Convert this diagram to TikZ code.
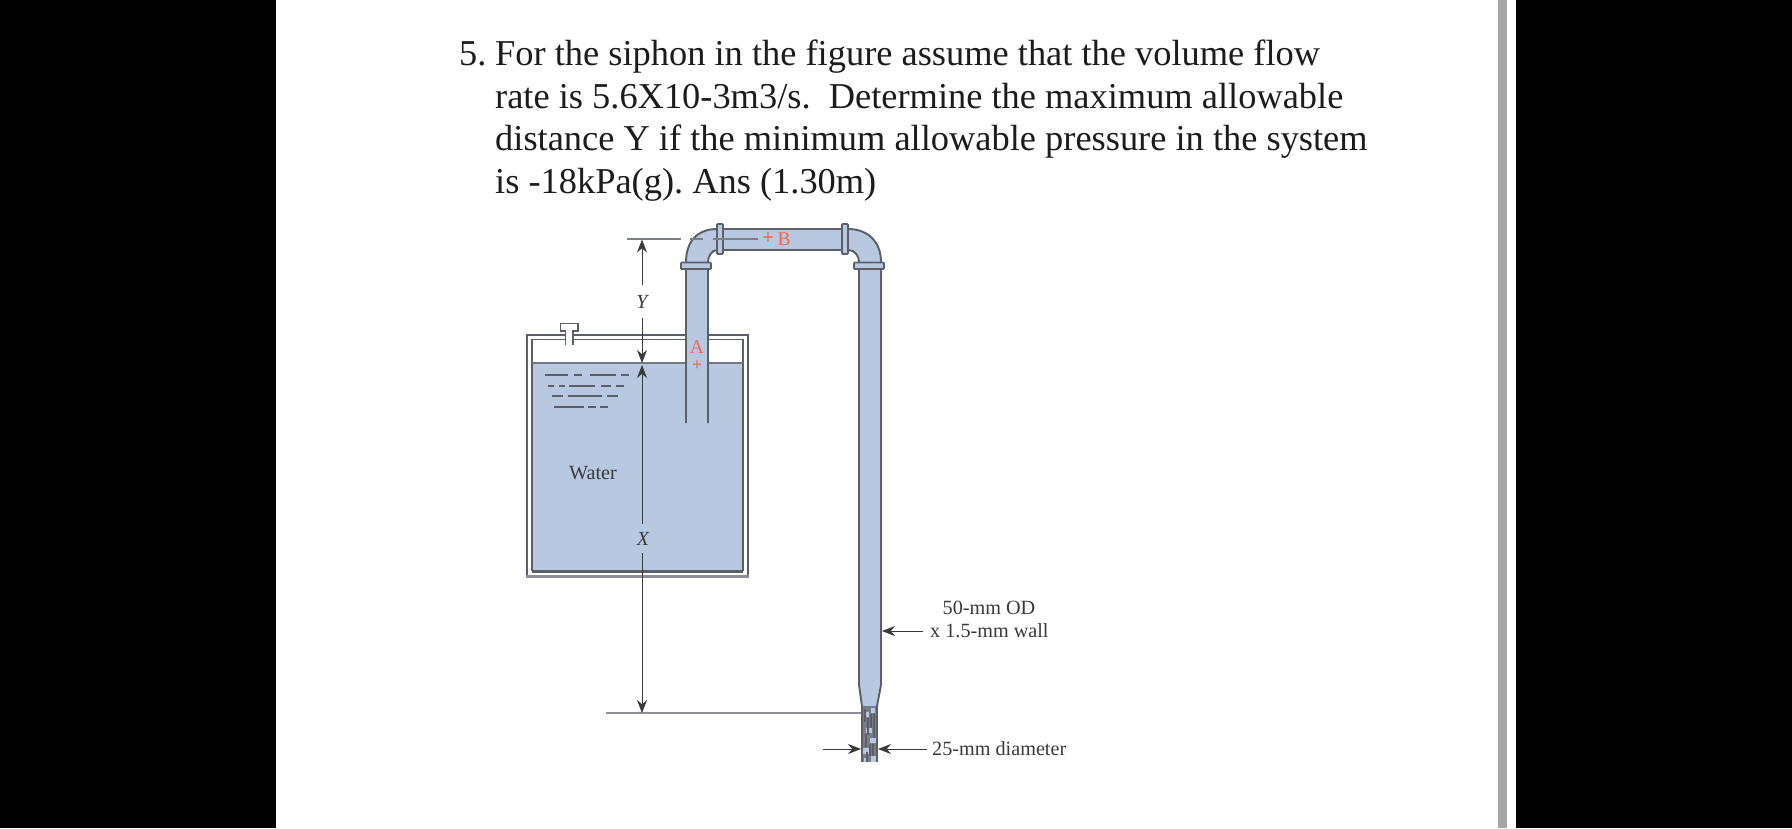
\documentclass[tikz,border=0pt]{standalone}
\usepackage{fontspec}
\setmainfont{Liberation Serif}
\usetikzlibrary{arrows.meta}
\definecolor{water}{HTML}{B7C8E0}
\definecolor{wall}{HTML}{5A5F68}
\definecolor{redlab}{HTML}{EE6A55}
\definecolor{inktext}{HTML}{1C1C1C}
\definecolor{lab}{HTML}{3A3A3A}
\definecolor{stripgrey}{HTML}{A6A6A6}
\frenchspacing
\tikzset{
  pline/.style={draw=wall,line width=1.9pt},
  flange/.style={draw=wall,fill=water,line width=1.6pt,rounded corners=0.8pt},
  dimline/.style={draw=lab,line width=0.9pt},
  dimtip/.style={-{Stealth[length=13pt,width=10pt]}},
  q/.style={font=\fontsize{36.4}{36.4}\selectfont,text=inktext,anchor=base west,inner sep=0pt},
  lbl/.style={font=\fontsize{20.2}{20.2}\selectfont,text=lab,inner sep=0pt},
  ital/.style={font=\fontsize{20}{20}\selectfont\itshape,text=lab,inner sep=0pt},
  red/.style={font=\fontsize{19.5}{19.5}\selectfont,text=redlab,inner sep=0pt},
  redplus/.style={font=\fontsize{21}{21}\selectfont\bfseries,text=redlab,inner sep=0pt},
  ripple/.style={draw=wall,line width=2pt}
}
\begin{document}
\begin{tikzpicture}[x=1pt,y=-1pt]
\useasboundingbox (0,0) rectangle (1792,828);
\fill[white] (0,0) rectangle (1792,828);
\fill[black] (0,0) rectangle (276,828);
\fill[black] (1516,0) rectangle (1792,828);
\fill[stripgrey] (1498,0) rectangle (1507,828);
% question text
\node[q] (n5) at (459,65) {5.};
\node[q] (l1) at (495,65) {For the siphon in the figure assume that the volume flow};
\node[q] (l2) at (495,108) {rate is 5.6X10-3m3/s.\ \ Determine the maximum allowable};
\node[q] (l3) at (495,150) {distance Y if the minimum allowable pressure in the system};
\node[q] (l4) at (495,193) {is -18kPa(g). Ans (1.30m)};
% tank
\fill[water] (532,363) rectangle (743,571);
\draw[wall,line width=1.8pt] (527,577) -- (527,335) -- (748,335) -- (748,577);
\draw[wall,line width=1.6pt] (532,571) -- (532,339.5) -- (743,339.5) -- (743,571);
\draw[wall!85,line width=1.2pt] (532,363) -- (743,363);
\draw[wall,line width=2.8pt] (532,571.5) -- (743,571.5);
\draw[wall!70,line width=2.8pt] (526.1,576.5) -- (748.9,576.5);
% filler cap
\fill[white] (565.5,331) rectangle (573,345);
\draw[wall,line width=1.5pt] (565.5,345) -- (565.5,331) -- (560.5,331) -- (560.5,323.5) -- (578,323.5) -- (578,331) -- (573,331) -- (573,345);
% pipe
\fill[water] (686,423) -- (686,262) .. controls (686,242) and (697,229) .. (717,229)
  -- (848,229) .. controls (868,229) and (881,242) .. (881,262)
  -- (881,685) -- (877,706) -- (862,706) -- (859,685)
  -- (859,262) .. controls (859,256) and (855,250) .. (848,250)
  -- (717,250) .. controls (712,250) and (708,256) .. (708,262) -- (708,423) -- cycle;
\draw[pline] (686,423) -- (686,262) .. controls (686,242) and (697,229) .. (717,229)
  -- (848,229) .. controls (868,229) and (881,242) .. (881,262) -- (881,685) -- (877,706);
\draw[pline] (708,423) -- (708,262) .. controls (708,256) and (712,250) .. (717,250)
  -- (848,250) .. controls (855,250) and (859,256) .. (859,262) -- (859,685) -- (862,706);
\draw[wall!70,line width=0.8pt] (862,706) -- (877,706);
% flanges
\draw[flange] (681,262.5) rectangle (711,269);
\draw[flange] (854,262.5) rectangle (884,269);
\draw[flange] (717,224) rectangle (723,254);
\draw[flange] (842,224) rectangle (848,254);
% jet
\fill[wall!70!water] (862,706) rectangle (877,762);
\foreach \xa/\ya/\xb/\yb in {864/712/869/717,871/708/875/713,866/728/872/733,870/738/876/743,863/748/869/754,871/756/876/762,864/758/868/762}
  \fill[water] (\xa,\ya) rectangle (\xb,\yb);
\foreach \xa/\ya/\yb in {865/709/722,868/718/735,871/714/728,874/714/738,866/734/747,870/744/756,873/744/756,867/752/762}
  \draw[wall,line width=1.1pt] (\xa,\ya) -- (\xa,\yb);
\draw[wall,line width=1.5pt] (862,706) -- (862,762);
\draw[wall,line width=1.5pt] (877,706) -- (877,762);
% water ripples
\foreach \xa/\xb/\yy in {545/568/375,574/582/375,590/616/375,621/629/375,
  548/554/386,559/565/386,569/595/386,601/611/386,616/624/386,
  552/563/396,568/602/396,607/618/396,
  554/584/407,588/596/407,600/608/407}
  \draw[ripple] (\xa,\yy) -- (\xb,\yy);
% dimension extension lines
\coordinate (yt0) at (627,239);
\coordinate (yt1) at (681,239);
\coordinate (yt2) at (690,239);
\coordinate (yt3) at (703,239);
\coordinate (yt4) at (713,239);
\coordinate (yt5) at (758,239);
\draw[wall!80,line width=1.5pt] (yt0) -- (yt1);
\draw[wall!80,line width=1.5pt] (yt2) -- (yt3);
\draw[wall!80,line width=1.5pt] (yt4) -- (yt5);
\coordinate (fl0) at (606,713);
\coordinate (fl1) at (861,713);
\draw[wall!70,line width=1.8pt] (fl0) -- (fl1);
% Y dimension
\node[ital] (ylab) at (642,302) {Y};
\coordinate (ytop) at (642,239.5);
\coordinate (ybot) at (642,363);
\coordinate (yup) at (642,285);
\coordinate (ydn) at (642,318);
\draw[dimline,dimtip] (yup) -- (ytop);
\draw[dimline,dimtip] (ydn) -- (ybot);
% X dimension
\node[ital] (xlab) at (643,539) {X};
\coordinate (xtop) at (642,365);
\coordinate (xbot) at (642,713);
\coordinate (xup) at (642,524);
\coordinate (xdn) at (642,553);
\draw[dimline,dimtip] (xup) -- (xtop);
\draw[dimline,dimtip] (xdn) -- (xbot);
% labels
\node[lbl] (wat) at (593,473) {Water};
\node[red] (alab) at (697,347.5) {A};
\node[redplus,font=\fontsize{17.5}{17.5}\selectfont\bfseries] (aplus) at (697,365.5) {+};
\node[redplus] (bplus) at (768,239) {+};
\node[red] (blab) at (784,239) {B};
% callouts
\node[lbl] (od) at (989,608) {50-mm OD};
\node[lbl,anchor=west] (wl) at (930,631) {x 1.5-mm wall};
\node[lbl,anchor=west] (dia) at (932,749) {25-mm diameter};
\coordinate (w0) at (882,631);
\coordinate (w1) at (923,631);
\coordinate (dl) at (823,749);
\coordinate (dl1) at (861,749);
\coordinate (dr0) at (927,749);
\coordinate (dr1) at (878,749);
\draw[dimline,dimtip] (w1) -- (w0);
\draw[dimline,dimtip] (dl) -- (dl1);
\draw[dimline,dimtip] (dr0) -- (dr1);
\end{tikzpicture}
\end{document}
